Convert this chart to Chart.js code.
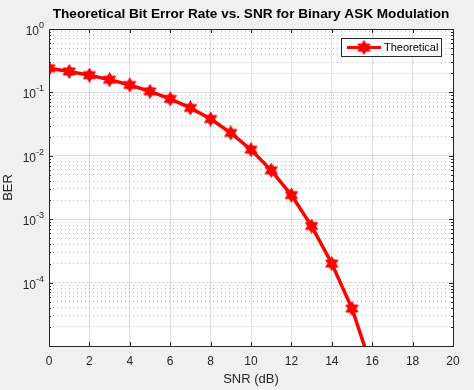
<!DOCTYPE html>
<html>
<head>
<meta charset="utf-8">
<script src="https://cdn.jsdelivr.net/npm/chart.js@4.4.1/dist/chart.umd.min.js"></script>
<style>
  html, body { margin: 0; padding: 0; background: #f0f0f0; }
  #wrap { width: 474px; height: 390px; }
</style>
</head>
<body>
<div id="wrap"><canvas id="berChart" width="474" height="390"></canvas></div>
<script>
// SNR points (dB) and theoretical BER
const snrDb = [0, 1, 2, 3, 4, 5, 6, 7, 8, 9, 10, 11, 12, 13, 14, 15, 16];
const berTheoretical = [0.24, 0.214, 0.187, 0.159, 0.131, 0.104, 0.079, 0.057, 0.038,
  0.023, 0.0125, 0.0059, 0.0024, 0.00078, 0.0002, 0.000039, 0.0000043];

// axis ticks
const xTicks = [0, 2, 4, 6, 8, 10, 12, 14, 16, 18, 20];
const yDecades = [1e-5, 1e-4, 1e-3, 1e-2, 1e-1, 1];
const yMinorMult = [2, 3, 4, 5, 6, 7, 8, 9];
const yLabelled = [1e-4, 1e-3, 1e-2, 1e-1, 1];

const FONT = "'Liberation Sans', Arial, Helvetica, sans-serif";
const AXIS_COLOR = "#262626";

let yTickValues = [];
yDecades.forEach((d, i) => {
  yTickValues.push(d);
  if (i < yDecades.length - 1) yMinorMult.forEach(m => yTickValues.push(m * d));
});

function isDecade(v) {
  const e = Math.log10(v);
  return Math.abs(e - Math.round(e)) < 1e-9;
}

// six-pointed star marker (MATLAB hexagram)
function makeHexagram(size, color) {
  const c = document.createElement("canvas");
  c.width = size; c.height = size;
  const ctx = c.getContext("2d");
  const cx = size / 2, cy = size / 2;
  const ro = size / 2 - 0.5, ri = ro / Math.sqrt(3);
  ctx.beginPath();
  for (let i = 0; i < 12; i++) {
    const r = i % 2 === 0 ? ro : ri;
    const a = -Math.PI / 2 + i * Math.PI / 6;
    const px = cx + r * Math.cos(a), py = cy + r * Math.sin(a);
    if (i === 0) ctx.moveTo(px, py); else ctx.lineTo(px, py);
  }
  ctx.closePath();
  ctx.fillStyle = color;
  ctx.fill();
  ctx.strokeStyle = color;
  ctx.lineWidth = 1;
  ctx.stroke();
  return c;
}
const starMarker = makeHexagram(15, "#ff0000");

// white plot area, box, inner tick marks and 10^n labels
const axesBox = {
  id: "axesBox",
  beforeDraw(chart) {
    const { ctx, chartArea: a } = chart;
    ctx.save();
    ctx.fillStyle = "#ffffff";
    ctx.fillRect(a.left, a.top, a.right - a.left, a.bottom - a.top);
    ctx.restore();
  },
  afterDatasetsDraw(chart) {
    const { ctx, chartArea: a, scales } = chart;
    ctx.save();
    ctx.strokeStyle = AXIS_COLOR;
    ctx.lineWidth = 1;
    ctx.beginPath();
    scales.y.ticks.forEach(t => {
      const py = Math.round(scales.y.getPixelForValue(t.value)) + 0.5;
      const len = isDecade(t.value) ? 4 : 2;
      ctx.moveTo(a.left, py); ctx.lineTo(a.left + len, py);
      ctx.moveTo(a.right, py); ctx.lineTo(a.right - len, py);
    });
    scales.x.ticks.forEach(t => {
      const px = Math.round(scales.x.getPixelForValue(t.value)) + 0.5;
      ctx.moveTo(px, a.bottom); ctx.lineTo(px, a.bottom - 4);
      ctx.moveTo(px, a.top); ctx.lineTo(px, a.top + 4);
    });
    ctx.stroke();
    ctx.strokeRect(Math.round(a.left) + 0.5, Math.round(a.top) + 0.5,
      Math.round(a.right - a.left), Math.round(a.bottom - a.top));

    // y labels as 10 with raised exponent
    ctx.fillStyle = AXIS_COLOR;
    ctx.textBaseline = "alphabetic";
    ctx.textAlign = "left";
    yLabelled.forEach(v => {
      const py = scales.y.getPixelForValue(v);
      const exp = String(Math.round(Math.log10(v)));
      ctx.font = "9px " + FONT;
      const ew = ctx.measureText(exp).width;
      ctx.font = "12px " + FONT;
      const bw = ctx.measureText("10").width;
      const right = a.left - 5;
      ctx.fillText("10", right - ew - bw, py + 6);
      ctx.font = "9px " + FONT;
      ctx.fillText(exp, right - ew, py - 1);
    });
    ctx.restore();
  }
};

// MATLAB-style legend in the upper right corner of the axes
const boxLegend = {
  id: "boxLegend",
  afterDraw(chart) {
    const { ctx, chartArea: a } = chart;
    const ds = chart.data.datasets[0];
    const w = 100, h = 18;
    const x0 = a.right - 12 - w, y0 = a.top + 9;
    ctx.save();
    ctx.fillStyle = "#ffffff";
    ctx.fillRect(x0, y0, w, h);
    ctx.strokeStyle = AXIS_COLOR;
    ctx.lineWidth = 1;
    ctx.strokeRect(x0 + 0.5, y0 + 0.5, w, h);
    const my = y0 + h / 2 + 0.5;
    ctx.strokeStyle = ds.borderColor;
    ctx.lineWidth = 3;
    ctx.beginPath();
    ctx.moveTo(x0 + 6, my); ctx.lineTo(x0 + 40, my);
    ctx.stroke();
    ctx.drawImage(starMarker, x0 + 23 - 7.5, my - 7.5);
    ctx.fillStyle = "#000000";
    ctx.font = "11px " + FONT;
    ctx.textBaseline = "middle";
    ctx.fillText(ds.label, x0 + 43, my + 0.5);
    ctx.restore();
  }
};

new Chart(document.getElementById("berChart"), {
  type: "line",
  data: {
    datasets: [{
      label: "Theoretical",
      data: snrDb.map((s, i) => ({ x: s, y: berTheoretical[i] })),
      borderColor: "#ff0000",
      backgroundColor: "#ff0000",
      borderWidth: 3.5,
      pointStyle: starMarker,
      pointRadius: 7,
      tension: 0
    }]
  },
  options: {
    responsive: false,
    animation: false,
    layout: { padding: { left: 0, right: 21, top: 0, bottom: 0 } },
    plugins: {
      legend: { display: false },
      tooltip: { enabled: false },
      title: {
        display: true,
        fullSize: false,
        text: "Theoretical Bit Error Rate vs. SNR for Binary ASK Modulation",
        color: "#000000",
        font: { family: FONT, size: 13.6, weight: "bold", lineHeight: 1.2 },
        padding: { top: 6.5, bottom: 6.2 }
      }
    },
    scales: {
      x: {
        type: "linear",
        min: 0,
        max: 20,
        afterBuildTicks: scale => { scale.ticks = xTicks.map(v => ({ value: v })); },
        afterFit: scale => { scale.height = 44; },
        grid: { color: "rgba(38,38,38,0.15)", lineWidth: 1, drawTicks: false },
        border: { display: false },
        ticks: {
          color: AXIS_COLOR,
          font: { family: FONT, size: 12 },
          padding: 8,
          maxRotation: 0,
          autoSkip: false
        },
        title: {
          display: true,
          text: "SNR (dB)",
          color: AXIS_COLOR,
          font: { family: FONT, size: 13 },
          padding: { top: 0, bottom: 3 }
        }
      },
      y: {
        type: "logarithmic",
        min: 1e-5,
        max: 1,
        afterBuildTicks: scale => { scale.ticks = yTickValues.map(v => ({ value: v })); },
        afterFit: scale => { scale.width = 49; },
        grid: {
          color: ctx => isDecade(ctx.tick.value) ? "rgba(38,38,38,0.15)" : "rgba(38,38,38,0.3)",
          lineWidth: 1,
          drawTicks: false
        },
        border: {
          display: false,
          dash: ctx => isDecade(ctx.tick.value) ? [] : [1, 3]
        },
        ticks: {
          autoSkip: false,
          callback: () => ""
        },
        title: {
          display: true,
          text: "BER",
          color: AXIS_COLOR,
          font: { family: FONT, size: 13 },
          padding: { top: 1, bottom: 0 }
        }
      }
    }
  },
  plugins: [axesBox, boxLegend]
});
</script>
</body>
</html>
